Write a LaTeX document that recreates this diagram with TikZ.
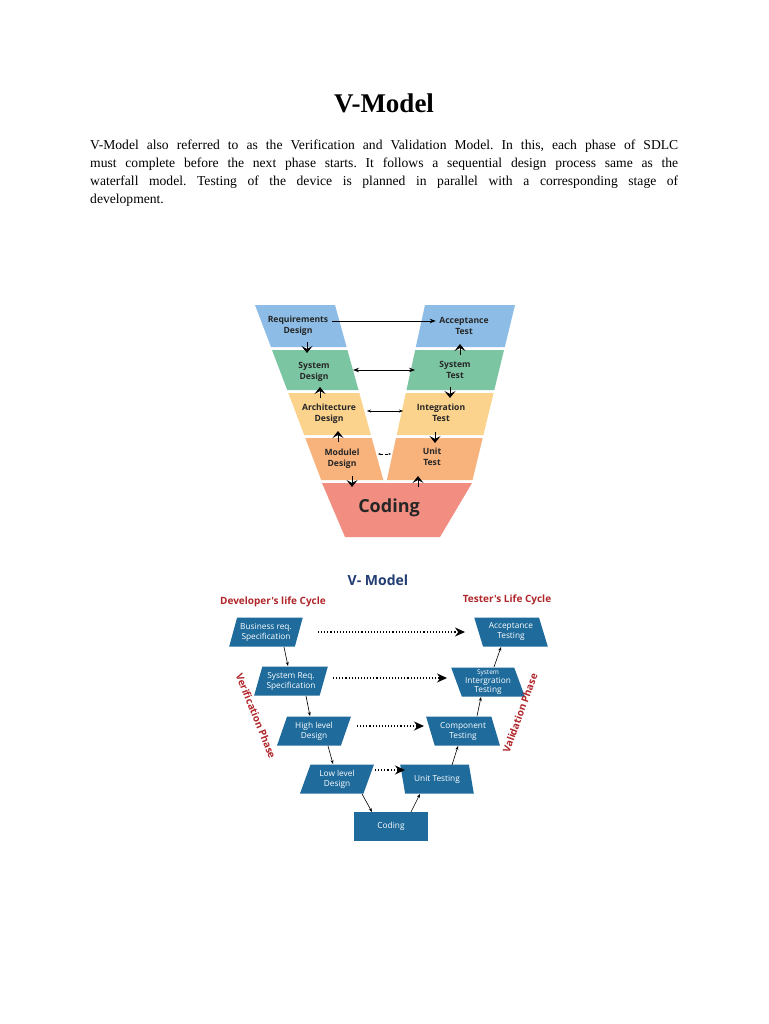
\documentclass[tikz,border=0pt]{standalone}
\usepackage{fontspec}
\setmainfont{Liberation Serif}
\newfontfamily\osans{Open Sans}
\usetikzlibrary{arrows.meta,shapes.geometric}
\definecolor{cblue}{HTML}{8DBDE6}
\definecolor{cgreen}{HTML}{7CC5A3}
\definecolor{cyel}{HTML}{FBD38D}
\definecolor{corg}{HTML}{F8B27C}
\definecolor{ccod}{HTML}{F18E81}
\definecolor{dblue}{HTML}{1E6B9C}
\definecolor{dred}{HTML}{B0262A}
\definecolor{navy}{HTML}{233C74}
\tikzset{
 vt/.style={font=\osans\bfseries\fontsize{8.6}{10.5}\selectfont, align=center, text=black!85},
 chev/.style={-{Stealth[length=7pt,width=11pt,inset=3pt]}, line width=1pt},
 pl/.style={trapezium, trapezium stretches=true, minimum width=74pt, minimum height=29pt, fill=dblue, text=white, font=\osans\fontsize{8.3}{10}\selectfont, align=center, inner sep=1pt},
 pleft/.style={pl, trapezium left angle=70, trapezium right angle=110},
 pright/.style={pl, trapezium left angle=110, trapezium right angle=70},
 dt/.style={dotted, line width=1.1pt, -{Stealth[length=10pt,width=9pt]}},
 sa/.style={-{Stealth[length=4pt]}, line width=0.6pt},
 red/.style={text=dred, font=\osans\bfseries\fontsize{10}{11}\selectfont}
}
\begin{document}
\begin{tikzpicture}[x=1pt,y=-1pt]
\useasboundingbox (0,0) rectangle (768,1024);
\fill[white] (0,0) rectangle (768,1024);
\node[font=\bfseries\fontsize{27}{30}\selectfont] (title) at (384,103) {V-Model};
\node[anchor=north west, text width=588pt, inner sep=0pt, align=justify, font=\frenchspacing\fontsize{13.6}{18}\selectfont] (para) at (90,140) {V-Model also referred to as the Verification and Validation Model. In this, each phase of SDLC\linebreak must complete before the next phase starts. It follows a sequential design process same as the\linebreak waterfall model. Testing of the device is planned in parallel with a corresponding stage of\linebreak development.};
% top V
\fill[cblue] (255,305)--(335,305)--(346.6,347)--(271,347)--cycle;
\fill[cblue] (425,305)--(515,305)--(504.8,347)--(415.8,347)--cycle;
\fill[cgreen] (272,350)--(347.4,350)--(358.5,390)--(287.2,390)--cycle;
\fill[cgreen] (415.2,350)--(504,350)--(494.3,390)--(406.5,390)--cycle;
\fill[cyel] (288.3,393)--(359.3,393)--(370.9,435)--(304.2,435)--cycle;
\fill[cyel] (405.8,393)--(493.6,393)--(483.4,435)--(396.7,435)--cycle;
\fill[corg] (305.3,438)--(371.7,438)--(383.3,480)--(321.2,480)--cycle;
\fill[corg] (396,438)--(482.7,438)--(472.5,480)--(386.9,480)--cycle;
\fill[ccod] (322,483)--(472,483)--(440,537)--(345,537)--cycle;
\node[vt] (rd) at (298,326) {Requirements\\Design};
\node[vt] (at) at (464,326) {Acceptance\\Test};
\node[vt] (sd) at (314,372) {System\\Design};
\node[vt] (st) at (455,370) {System\\Test};
\node[vt] (ad) at (329,414) {Architecture\\Design};
\node[vt] (it) at (441,413) {Integration\\Test};
\node[vt] (md) at (342,459) {Modulel\\Design};
\node[vt] (ut) at (432,457) {Unit\\Test};
\node[font=\osans\bfseries\fontsize{18}{20}\selectfont, text=black!85] (cod) at (389,508) {Coding};
\draw[-{Stealth[length=6pt]}, line width=0.9pt] (rd.east|-0,321) -- (at.west|-0,321);
\draw[{Stealth[length=6pt]}-{Stealth[length=6pt]}, line width=0.9pt] (353,370) -- (415,370);
\draw[{Stealth[length=4pt]}-{Stealth[length=4pt]}, line width=0.5pt] (367,411) -- (403,411);
\draw[{Stealth[length=2.5pt]}-{Stealth[length=2.5pt]}, line width=0.4pt, densely dashed] (378,454) -- (391,454);
\draw[chev] (307,342) -- (307,353);
\draw[chev] (460,355) -- (460,344);
\draw[chev] (320,398) -- (320,387);
\draw[chev] (450,387) -- (450,398);
\draw[chev] (338,442) -- (338,431);
\draw[chev] (435,432) -- (435,443);
\draw[chev] (352,476) -- (352,487);
\draw[chev] (418,487) -- (418,476);
% bottom diagram
\node[font=\osans\bfseries\fontsize{14}{16}\selectfont, text=navy] (vm) at (378,580) {V- Model};
\node[red] (dev) at (273,602) {Developer's life Cycle};
\node[red] (tes) at (507,600) {Tester's Life Cycle};
\node[pleft] (b1) at (266,632) {Business req.\\Specification};
\node[pleft] (b2) at (291,681) {System Req.\\Specification};
\node[pleft] (b3) at (314,731) {High level\\Design};
\node[pleft] (b4) at (337,779) {Low level\\Design};
\node[pright] (r1) at (511,632) {Acceptance\\Testing};
\node[pright, font=\osans\fontsize{8.3}{9}\selectfont] (r2) at (488,682) {{\fontsize{6.5}{7}\selectfont System}\\Intergration\\Testing};
\node[pright] (r3) at (463,731) {Component\\Testing};
\node[pright] (r4) at (437,779) {Unit Testing};
\node[fill=dblue, text=white, minimum width=74pt, minimum height=29pt, font=\osans\fontsize{8.3}{10}\selectfont] (co) at (391,826) {Coding};
\draw[dt] (318,632) -- (465,632);
\draw[dt] (333,678) -- (447,678);
\draw[dt] (357,726) -- (424,726);
\draw[dt] (375,770) -- (405,770);
\draw[sa] (284,647) -- (288,666);
\draw[sa] (306,696) -- (310,716);
\draw[sa] (328,746) -- (333,764);
\draw[sa] (362,794) -- (372,812);
\draw[sa] (411,812) -- (420,794);
\draw[sa] (452,765) -- (458,746);
\draw[sa] (477,716) -- (481,697);
\draw[sa] (494,667) -- (501,647);
\node[red, rotate=-68] (ver) at (256,716) {Verification Phase};
\node[red, rotate=70] (val) at (520,713) {Validation Phase};
\end{tikzpicture}
\end{document}
